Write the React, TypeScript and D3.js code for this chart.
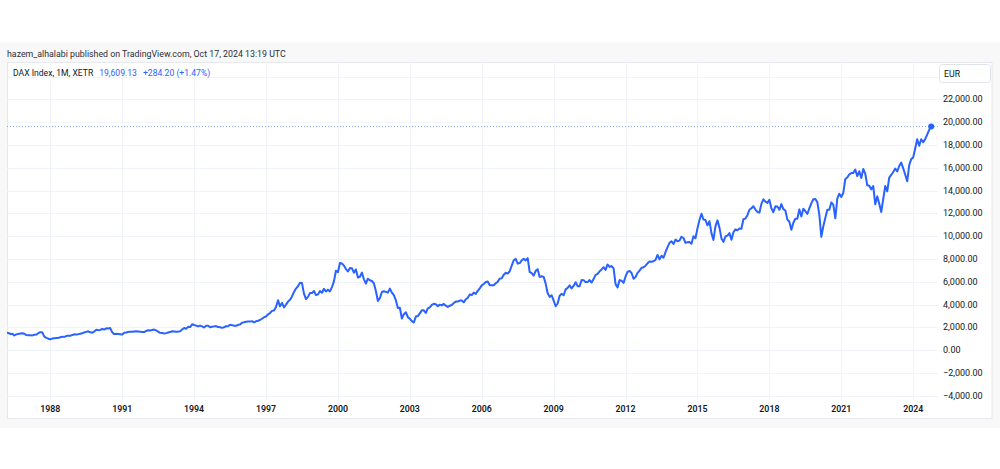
import React from "react";
import * as d3 from "d3";

// Monthly closes of the DAX index (EUR), starting Jan 1986
const START_YEAR = 1986;
const dax1986to1989 = [
  1400, 1480, 1530, 1500, 1420, 1440, 1290, 1380, 1420, 1450, 1470, 1432,
  1320, 1300, 1310, 1290, 1340, 1360, 1480, 1570, 1560, 1180, 1080, 1000,
  950, 1010, 1050, 1060, 1070, 1130, 1170, 1160, 1230, 1270, 1250, 1328,
  1380, 1370, 1400, 1440, 1470, 1550, 1600, 1650, 1560, 1530, 1620, 1790,
];
const dax1990to1999 = [
  1750, 1770, 1850, 1800, 1910, 1890, 1930, 1560, 1400, 1440, 1420, 1398,
  1370, 1530, 1540, 1590, 1620, 1600, 1630, 1660, 1640, 1620, 1580, 1578,
  1680, 1750, 1720, 1760, 1800, 1730, 1620, 1520, 1510, 1460, 1490, 1545,
  1580, 1650, 1640, 1620, 1620, 1660, 1800, 1940, 1870, 2040, 2020, 2267,
  2200, 2150, 2080, 2150, 2080, 1990, 2130, 2140, 2010, 2050, 2080, 2107,
  2020, 2000, 1950, 2000, 2100, 2090, 2220, 2190, 2140, 2130, 2220, 2254,
  2400, 2440, 2490, 2510, 2500, 2540, 2430, 2530, 2580, 2640, 2750, 2889,
  2950, 3140, 3250, 3440, 3480, 3780, 4380, 3840, 4140, 3750, 3990, 4250,
  4420, 4710, 5100, 5400, 5600, 5900, 5880, 4950, 4470, 4670, 5000, 5002,
  5184, 4820, 4884, 5181, 5027, 5378, 5146, 5303, 5150, 5525, 6027, 6958,
];
const dax2000to2009 = [
  6835, 7644, 7599, 7414, 7109, 6898, 7191, 7185, 6798, 7077, 6372, 6434,
  6795, 6208, 5830, 6265, 6123, 6058, 5862, 5188, 4308, 4560, 5102, 5160,
  5108, 5039, 5397, 5041, 4818, 4383, 3700, 3712, 2769, 3153, 3320, 2893,
  2748, 2547, 2424, 2942, 2983, 3221, 3487, 3485, 3257, 3656, 3745, 3965,
  4058, 4018, 3856, 3985, 3921, 4052, 3895, 3785, 3893, 3960, 4126, 4256,
  4254, 4350, 4349, 4185, 4460, 4586, 4886, 4829, 5044, 4929, 5193, 5408,
  5674, 5796, 5970, 6009, 5692, 5683, 5682, 5859, 6004, 6268, 6309, 6597,
  6789, 6715, 6917, 7409, 7883, 8007, 7584, 7638, 7862, 8019, 7871, 8067,
  6851, 6748, 6535, 6949, 7097, 6418, 6479, 6422, 5831, 4988, 4669, 4810,
  4338, 3844, 4085, 4770, 4941, 4809, 5332, 5458, 5675, 5415, 5625, 5957,
];
const dax2010to2019 = [
  5608, 5598, 6154, 6136, 5964, 5966, 6148, 5925, 6229, 6601, 6688, 6914,
  7077, 7273, 7041, 7514, 7294, 7376, 7159, 5785, 5502, 6141, 6089, 5898,
  6459, 6856, 6947, 6761, 6264, 6416, 6772, 6970, 7216, 7260, 7406, 7612,
  7776, 7742, 7795, 7914, 8349, 7959, 8276, 8104, 8594, 9033, 9406, 9552,
  9306, 9692, 9556, 9603, 9943, 9833, 9407, 9470, 9474, 9327, 9980, 9806,
  10694, 11402, 11966, 11454, 11414, 10945, 11309, 10259, 9660, 10850, 11382, 10743,
  9798, 9495, 9966, 10039, 10263, 9680, 10337, 10593, 10511, 10665, 10640, 11481,
  11535, 11834, 12313, 12438, 12615, 12325, 12118, 12056, 12829, 13230, 13024, 12918,
  13189, 12436, 12097, 12612, 12605, 12306, 12806, 12364, 12247, 11448, 11257, 10559,
  11173, 11516, 11526, 12344, 11727, 12399, 12189, 11939, 12428, 12867, 13236, 13249,
];
const dax2020to2024 = [
  12982, 11890, 9936, 10862, 11587, 12311, 12313, 12945, 12761, 11556, 13291, 13719,
  13433, 13786, 15008, 15136, 15421, 15531, 15544, 15835, 15261, 15688, 15100, 15885,
  15471, 14461, 14415, 14098, 14388, 12784, 13484, 12835, 12114, 13253, 14397, 13924,
  15128, 15365, 15629, 15922, 15664, 16148, 16447, 15947, 15387, 14810, 16215, 16752,
  16904, 17678, 18492, 17932, 18498, 18235, 18509, 18907, 19325, 19609.13,
];

const yTicks = [-4000, -2000, 0, 2000, 4000, 6000, 8000, 10000, 12000, 14000, 16000, 18000, 20000, 22000];
const gridOnlyTicks = [24000];
const yearTicks = [1988, 1991, 1994, 1997, 2000, 2003, 2006, 2009, 2012, 2015, 2018, 2021, 2024];

const headerText = "hazem_alhalabi published on TradingView.com, Oct 17, 2024 13:19 UTC";
const legendTitle = "DAX Index, 1M, XETR";
const legendPrice = "19,609.13";
const legendChange = "+284.20 (+1.47%)";
const currency = "EUR";

const W = 1000;
const H = 469;
const FONT = "Roboto, 'Open Sans', Arial, sans-serif";
const BLUE = "#2962ff";

export default function App() {
  const closes = [
    ...dax1986to1989,
    ...dax1990to1999,
    ...dax2000to2009,
    ...dax2010to2019,
    ...dax2020to2024,
  ];
  const points = closes.map((v, i) => ({ t: START_YEAR + i / 12, v }));

  const plot = { left: 7, right: 938, top: 62, bottom: 400 };
  const x = d3.scaleLinear().domain([1988, 2024]).range([50.3, 913.2]);
  const y = d3.scaleLinear().domain([-4000, 22000]).range([395.7, 99.3]);

  const line = d3
    .line<{ t: number; v: number }>()
    .x((d) => x(d.t))
    .y((d) => y(d.v))
    .curve(d3.curveLinear);

  const last = points[points.length - 1];
  const fmt = d3.format(",.2f");

  return (
    <div style={{ position: "fixed", left: 0, top: 0 }}>
      <svg width={W} height={H} style={{ display: "block", fontFamily: FONT }}>
        <defs>
          <clipPath id="plotClip">
            <rect x={plot.left} y={plot.top} width={plot.right - plot.left} height={plot.bottom - plot.top} />
          </clipPath>
        </defs>
        <rect x={0} y={0} width={W} height={H} fill="#ffffff" />
        <rect x={0} y={42} width={W} height={386} fill="#f8f8f8" />
        <rect x={7.5} y={62.5} width={984.5} height={356} fill="#ffffff" stroke="#e6e8ee" strokeWidth={1} />

        {/* header */}
        <text x={7} y={56.5} fontSize={8.8} fill="#2a2e39">{headerText}</text>

        {/* grid */}
        <g clipPath="url(#plotClip)">
          {[...yTicks, ...gridOnlyTicks].map((t) => (
            <line key={"h" + t} x1={plot.left} x2={plot.right} y1={Math.round(y(t)) + 0.5} y2={Math.round(y(t)) + 0.5} stroke="#f0f3fa" strokeWidth={1} />
          ))}
          {yearTicks.map((t) => (
            <line key={"v" + t} x1={Math.round(x(t)) + 0.5} x2={Math.round(x(t)) + 0.5} y1={plot.top} y2={plot.bottom} stroke="#f0f3fa" strokeWidth={1} />
          ))}
        </g>

        {/* last price line */}
        <line x1={plot.left} x2={plot.right} y1={y(last.v)} y2={y(last.v)} stroke={BLUE} strokeOpacity={0.55} strokeWidth={1} strokeDasharray="1 2" />

        {/* series */}
        <g clipPath="url(#plotClip)">
          <path d={line(points) || ""} fill="none" stroke={BLUE} strokeWidth={2} strokeLinejoin="round" strokeLinecap="round" />
          <circle cx={x(last.t)} cy={y(last.v)} r={3} fill={BLUE} />
        </g>

        {/* legend */}
        <text x={13} y={76} fontSize={8.6} fill="#131722">
          {legendTitle}
          <tspan dx={6} fill={BLUE}>{legendPrice}</tspan>
          <tspan dx={6} fill={BLUE}>{legendChange}</tspan>
        </text>

        {/* price scale */}
        <rect x={939.5} y={64.5} width={51} height={18} rx={3} fill="#ffffff" stroke="#e0e3eb" />
        <text x={944} y={76.5} fontSize={8.8} fill="#131722">{currency}</text>
        {yTicks.map((t) => (
          <text key={"yl" + t} x={943} y={y(t)} dy="0.35em" fontSize={9} fill="#131722">
            {t < 0 ? "\u2212" + fmt(-t) : fmt(t)}
          </text>
        ))}

        {/* time scale */}
        {yearTicks.map((t) => (
          <text key={"xl" + t} x={x(t)} y={409} dy="0.35em" fontSize={8.8} fontWeight={600} fill="#131722" textAnchor="middle">
            {t}
          </text>
        ))}
      </svg>
    </div>
  );
}
